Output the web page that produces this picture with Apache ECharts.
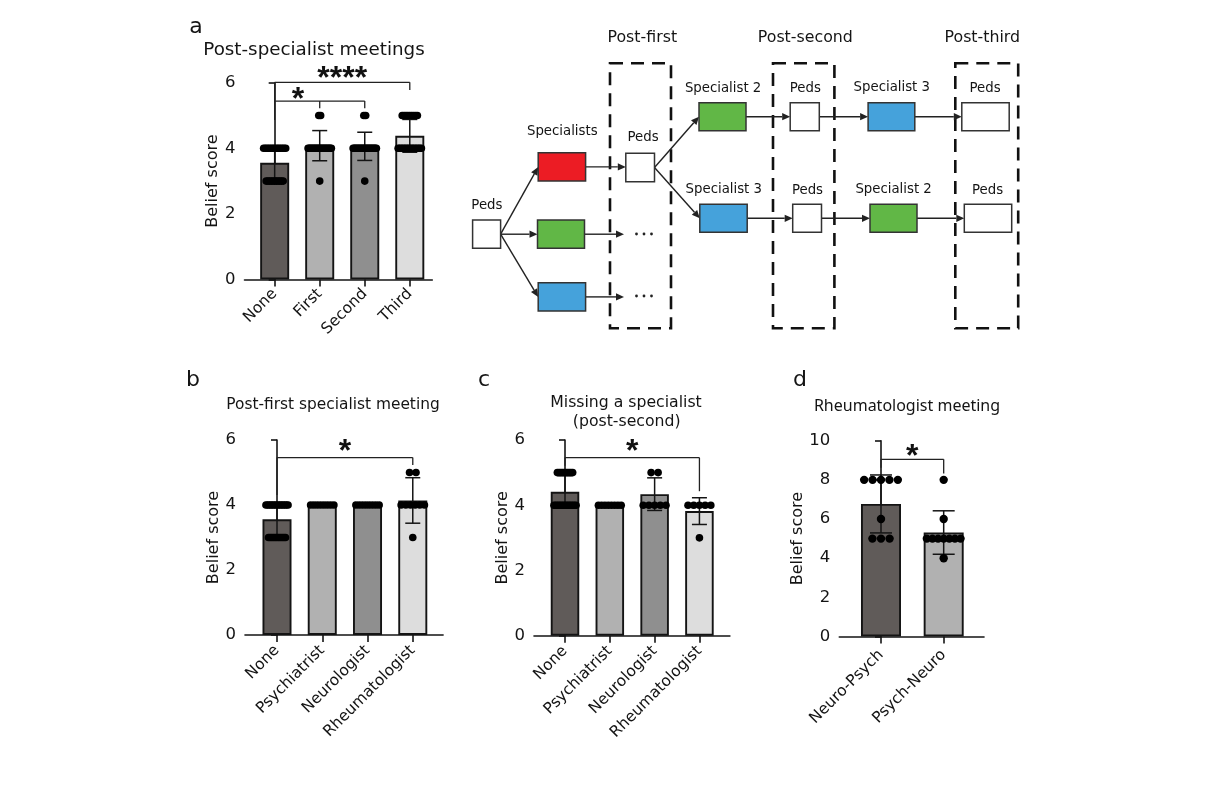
<!DOCTYPE html>
<html><head><meta charset="utf-8">
<script src="https://cdn.jsdelivr.net/npm/echarts@6/dist/echarts.min.js"></script>
<style>html,body{margin:0;padding:0;background:#fff}#c{width:1209px;height:785px}</style>
</head><body><div id="c"></div>
<script>
// ================= DATA =================
// Panel a: Post-specialist meetings
const catsA = ['None', 'First', 'Second', 'Third'];
const meanA = [3.56, 4.08, 4.06, 4.38];
const sdA   = [0.50, 0.46, 0.43, 0.50];
const ptsA_None   = [4,4,4,4,4,4,4,4,4,4,4,4,4,4,3,3,3,3,3,3,3,3,3,3,3];
const ptsA_First  = [5,5,4,4,4,4,4,4,4,4,4,4,4,4,4,4,4,4,4,4,4,4,4,4,3];
const ptsA_Second = [5,5,4,4,4,4,4,4,4,4,4,4,4,4,4,4,4,4,4,4,4,4,4,4,3];
const ptsA_Third  = [5,5,5,5,5,5,5,5,5,4,4,4,4,4,4,4,4,4,4,4,4,4,4,4,4];
const sigA = [
  {from: 0, to: 3, level: 6.01, ends: [4.86, 5.78], ticks: [], text: '****', at: 1.5},
  {from: 0, to: 2, level: 5.44, ends: [null, 5.22], ticks: [[1, 5.22]], text: '*', at: 0.52}
];

// Panel b: Post-first specialist meeting
const catsB = ['None', 'Psychiatrist', 'Neurologist', 'Rheumatologist'];
const meanB = [3.56, 4.00, 4.00, 4.14];
const sdB   = [0.50, 0, 0, 0.70];
const ptsB_None  = [4,4,4,4,4,4,4,4,4,4,4,4,4,4,3,3,3,3,3,3,3,3,3,3,3];
const ptsB_Psych = [4,4,4,4,4,4,4,4];
const ptsB_Neuro = [4,4,4,4,4,4,4,4];
const ptsB_Rheum = [5,5,4,4,4,4,4,4,3];
const sigB = [{from: 0, to: 3, level: 5.46, ends: [4.31, 5.23], ticks: [], text: '*', at: 1.5}];

// Panel c: Missing a specialist (post-second)
const catsC = ['None', 'Psychiatrist', 'Neurologist', 'Rheumatologist'];
const meanC = [4.41, 4.00, 4.34, 3.82];
const sdC   = [0.50, 0, 0.50, 0.41];
const ptsC_None  = [5,5,5,5,5,5,5,5,5,5,4,4,4,4,4,4,4,4,4,4,4,4,4,4];
const ptsC_Psych = [4,4,4,4,4,4,4,4];
const ptsC_Neuro = [5,5,4,4,4,4,4];
const ptsC_Rheum = [4,4,4,4,4,3];
const sigC = [{from: 0, to: 3, level: 5.46, ends: [5.21, 4.43], ticks: [], text: '*', at: 1.5}];

// Panel d: Rheumatologist meeting
const catsD = ['Neuro-Psych', 'Psych-Neuro'];
const meanD = [6.77, 5.31];
const sdD   = [1.48, 1.11];
const ptsD_NP = [8,8,8,8,8,6,5,5,5];
const ptsD_PN = [8,6,5,5,5,5,5,5,5,4];
const sigD = [{from: 0, to: 1, level: 9.05, ends: [8.62, 8.33], ticks: [], text: '*', at: 0.5}];

const yTicksABC = {max: 6, interval: 2};
const yTicksD = {max: 10, interval: 2};

// ================= STYLE / LAYOUT =================
const FONT = '"DejaVu Sans", sans-serif';
const INK = '#141414';
const C_DARK = '#605b59', C_LIGHT = '#b1b1b1', C_MID = '#8f8f8f', C_PALE = '#dddddd';

const panels = [
  {cats: catsA, mean: meanA, sd: sdA, pts: [ptsA_None, ptsA_First, ptsA_Second, ptsA_Third], sig: sigA, y: yTicksABC,
   colors: [C_DARK, C_LIGHT, C_MID, C_PALE], grid: {left: 244.5, top: 82.7, width: 187.8, height: 196.8},
   xmin: -0.67, xmax: 3.5, barW: 29, cap: 15, r: 3.8, gap: [1.7, 1.9, 1.9, 1.9], lifts: [11.5, 9], nameGap: 24, lblMargin: 12},
  {cats: catsB, mean: meanB, sd: sdB, pts: [ptsB_None, ptsB_Psych, ptsB_Neuro, ptsB_Rheum], sig: sigB, y: yTicksABC,
   colors: [C_DARK, C_LIGHT, C_MID, C_PALE], grid: {left: 245, top: 440, width: 198.1, height: 195},
   xmin: -0.707, xmax: 3.67, barW: 29, cap: 15, r: 3.8, gap: [1.7, 6.5, 6.5, 6.5], lifts: [13.5], nameGap: 23, lblMargin: 13},
  {cats: catsC, mean: meanC, sd: sdC, pts: [ptsC_None, ptsC_Psych, ptsC_Neuro, ptsC_Rheum], sig: sigC, y: yTicksABC,
   colors: [C_DARK, C_LIGHT, C_MID, C_PALE], grid: {left: 534, top: 440, width: 195.9, height: 195.7},
   xmin: -0.692, xmax: 3.68, barW: 28.5, cap: 15, r: 3.8, gap: [1.7, 6.5, 7, 6.5], lifts: [13.5], nameGap: 23, lblMargin: 13},
  {cats: catsD, mean: meanD, sd: sdD, pts: [ptsD_NP, ptsD_PN], sig: sigD, y: yTicksD,
   colors: [C_DARK, C_LIGHT], grid: {left: 839.3, top: 440.7, width: 144.7, height: 195.8},
   xmin: -0.665, xmax: 1.643, barW: 40, cap: 22, r: 4.2, gap: [8.6, 8.6], lifts: [9.8], nameGap: 33.5, lblMargin: 16}
];

function dotData(pts) {
  const out = [];
  pts.forEach((list, i) => {
    const groups = {};
    list.forEach(v => { (groups[v] = groups[v] || []).push(v); });
    Object.keys(groups).forEach(k => {
      const n = groups[k].length;
      for (let r = 0; r < n; r++) out.push([i, +k, r, n]);
    });
  });
  return out;
}

const grids = [], xAxes = [], yAxes = [], series = [];
panels.forEach((p, g) => {
  grids.push(Object.assign({containLabel: false, outerBoundsMode: 'none'}, p.grid));
  const idx = p.cats.map((_, i) => i);
  xAxes.push({
    type: 'value', gridIndex: g, min: p.xmin, max: p.xmax,
    axisLine: {show: true, onZero: false, lineStyle: {color: INK, width: 1.6}},
    axisTick: {show: true, length: 7, customValues: idx, lineStyle: {color: INK, width: 1.6}},
    axisLabel: {show: true, rotate: 45, margin: p.lblMargin, fontSize: 15.5, fontFamily: FONT, color: INK,
      customValues: idx, formatter: v => p.cats[Math.round(v)] || ''},
    splitLine: {show: false}
  });
  yAxes.push({
    type: 'value', gridIndex: g, min: 0, max: p.y.max, interval: p.y.interval,
    axisLine: {show: true, lineStyle: {color: INK, width: 1.6}},
    axisTick: {show: true, length: 6, lineStyle: {color: INK, width: 1.6}},
    axisLabel: {fontSize: 16.5, margin: 9, color: INK, fontFamily: FONT},
    splitLine: {show: false},
    name: 'Belief score', nameLocation: 'middle', nameGap: p.nameGap, nameRotate: 90,
    nameTextStyle: {fontSize: 16, fontFamily: FONT, color: INK}
  });
  // bars
  series.push({
    type: 'bar', xAxisIndex: g, yAxisIndex: g, barWidth: p.barW, z: 2, silent: true,
    data: p.mean.map((m, i) => ({value: [i, m], itemStyle: {color: p.colors[i]}})),
    itemStyle: {borderColor: INK, borderWidth: 1.9}
  });
  // error bars (mean ± SD)
  series.push({
    type: 'custom', xAxisIndex: g, yAxisIndex: g, z: 3, silent: true,
    data: p.mean.map((m, i) => [i, m, p.sd[i]]),
    renderItem: (params, api) => {
      const i = api.value(0), m = api.value(1), s = api.value(2);
      if (!s) return null;
      const t = api.coord([i, m + s]), b = api.coord([i, m - s]);
      const h = p.cap / 2, st = {stroke: INK, lineWidth: 1.5};
      return {type: 'group', children: [
        {type: 'line', shape: {x1: t[0], y1: t[1], x2: b[0], y2: b[1]}, style: st},
        {type: 'line', shape: {x1: t[0] - h, y1: t[1], x2: t[0] + h, y2: t[1]}, style: st},
        {type: 'line', shape: {x1: b[0] - h, y1: b[1], x2: b[0] + h, y2: b[1]}, style: st}
      ]};
    }
  });
  // individual points
  series.push({
    type: 'custom', xAxisIndex: g, yAxisIndex: g, z: 4, silent: true,
    data: dotData(p.pts),
    renderItem: (params, api) => {
      const i = api.value(0), v = api.value(1), rk = api.value(2), n = api.value(3);
      const c = api.coord([i, v]);
      const span = p.barW - 1.5 * p.r;
      const s = n > 1 ? Math.min(p.gap[i], span / (n - 1)) : 0;
      const x = c[0] + (rk - (n - 1) / 2) * s;
      return {type: 'circle', shape: {cx: x, cy: c[1], r: p.r}, style: {fill: '#000'}};
    }
  });
  // significance brackets
  series.push({
    type: 'custom', xAxisIndex: g, yAxisIndex: g, z: 5, silent: true,
    data: p.sig.map((s, k) => [s.from, s.level, k]),
    renderItem: (params, api) => {
      const s = p.sig[params.dataIndex];
      const st = {stroke: '#222', lineWidth: 1.3};
      const a = api.coord([s.from, s.level]), b = api.coord([s.to, s.level]);
      const ch = [{type: 'line', shape: {x1: a[0], y1: a[1], x2: b[0], y2: b[1]}, style: st}];
      if (s.ends[0] != null) { const e = api.coord([s.from, s.ends[0]]); ch.push({type: 'line', shape: {x1: a[0], y1: a[1], x2: e[0], y2: e[1]}, style: st}); }
      if (s.ends[1] != null) { const e = api.coord([s.to, s.ends[1]]); ch.push({type: 'line', shape: {x1: b[0], y1: b[1], x2: e[0], y2: e[1]}, style: st}); }
      s.ticks.forEach(tk => {
        const u = api.coord([tk[0], s.level]), e = api.coord([tk[0], tk[1]]);
        ch.push({type: 'line', shape: {x1: u[0], y1: u[1], x2: e[0], y2: e[1]}, style: st});
      });
      const t = api.coord([s.at, s.level]);
      ch.push({type: 'text', x: t[0], y: t[1] - p.lifts[params.dataIndex] + 8,
        style: {text: s.text, fill: '#111', fontSize: 32, fontWeight: 'bold', fontFamily: '"Liberation Sans", Arial, sans-serif',
          align: 'center', textAlign: 'center', verticalAlign: 'middle', textVerticalAlign: 'middle'}});
      return {type: 'group', children: ch};
    }
  });
});

// ================= DIAGRAM + TEXT (graphic) =================
const G = [];
function txt(x, y, text, size, family, weight) {
  G.push({type: 'text', x, y, z: 10, style: {text, fill: INK, fontSize: size, fontFamily: family || FONT, fontWeight: weight || 'normal',
    align: 'center', textAlign: 'center', verticalAlign: 'middle', textVerticalAlign: 'middle'}});
}
function box(x1, y1, x2, y2, fill) {
  G.push({type: 'rect', z: 10, shape: {x: x1, y: y1, width: x2 - x1, height: y2 - y1}, style: {fill, stroke: '#333', lineWidth: 1.5}});
}
function dashed(x1, y1, x2, y2) {
  G.push({type: 'rect', z: 9, shape: {x: x1, y: y1, width: x2 - x1, height: y2 - y1},
    style: {fill: 'none', stroke: '#111', lineWidth: 2.6, lineDash: [13, 8]}});
}
function arrow(x1, y1, x2, y2) {
  const dx = x2 - x1, dy = y2 - y1, L = Math.hypot(dx, dy), ux = dx / L, uy = dy / L, hl = 8, hw = 3.6;
  const bx = x2 - ux * hl, by = y2 - uy * hl;
  G.push({type: 'line', z: 10, shape: {x1, y1, x2: bx, y2: by}, style: {stroke: '#222', lineWidth: 1.4}});
  G.push({type: 'polygon', z: 10, shape: {points: [[x2, y2], [bx - uy * hw, by + ux * hw], [bx + uy * hw, by - ux * hw]]}, style: {fill: '#222'}});
}
function dots3(x, y) {
  [0, 7.5, 15].forEach(d => G.push({type: 'circle', z: 10, shape: {cx: x + d, cy: y, r: 1.4}, style: {fill: '#222'}}));
}
const RED = '#ec1c24', GREEN = '#61b746', BLUE = '#45a2db', WHITE = '#ffffff';

dashed(610, 63.3, 671, 328.3);
dashed(773, 63.3, 834.4, 328.3);
dashed(955.3, 63.3, 1018.2, 328.3);

arrow(500.6, 234.2, 538.2, 166.9);
arrow(500.6, 234.2, 537.5, 234.2);
arrow(500.6, 234.2, 538.2, 296.9);
arrow(585.6, 166.9, 625.8, 166.9);
arrow(584.5, 234.2, 624, 234.2);
arrow(585.6, 296.9, 624, 296.9);
arrow(654.5, 167.5, 699, 116.7);
arrow(654.5, 167.5, 699.8, 218.3);
arrow(746, 116.7, 790.2, 116.7);
arrow(747.2, 218.3, 792.7, 218.3);
arrow(819.3, 116.7, 868.1, 116.7);
arrow(821.5, 218.3, 870, 218.3);
arrow(914.8, 116.7, 961.8, 116.7);
arrow(917, 218.3, 964.3, 218.3);
dots3(636.5, 234);
dots3(636.5, 296);

box(472.6, 220, 500.6, 248.3, WHITE);
box(538.2, 152.7, 585.6, 181, RED);
box(537.5, 220, 584.5, 248.3, GREEN);
box(538.2, 282.7, 585.6, 311, BLUE);
box(625.8, 153.3, 654.5, 181.7, WHITE);
box(699, 102.7, 746, 130.7, GREEN);
box(699.8, 204.3, 747.2, 232.3, BLUE);
box(790.2, 102.7, 819.3, 130.7, WHITE);
box(792.7, 204.3, 821.5, 232.3, WHITE);
box(868.1, 102.7, 914.8, 130.7, BLUE);
box(870, 204.3, 917, 232.3, GREEN);
box(961.8, 102.7, 1009.2, 130.7, WHITE);
box(964.3, 204.3, 1011.7, 232.3, WHITE);

const LBL = 13.3;
txt(486.9, 206, 'Peds', LBL);
txt(562.3, 131.6, 'Specialists', LBL);
txt(643.1, 137.6, 'Peds', LBL);
txt(723.1, 88.6, 'Specialist 2', LBL);
txt(723.8, 189.2, 'Specialist 3', LBL);
txt(805.3, 88.6, 'Peds', LBL);
txt(807.5, 190.9, 'Peds', LBL);
txt(891.8, 87.6, 'Specialist 3', LBL);
txt(893.6, 189.2, 'Specialist 2', LBL);
txt(985.1, 88.6, 'Peds', LBL);
txt(987.6, 190.2, 'Peds', LBL);
txt(642.3, 38, 'Post-first', 15.8);
txt(805.3, 38, 'Post-second', 15.8);
txt(982.3, 38, 'Post-third', 15.8);

// panel letters and titles
txt(196, 27.7, 'a', 22);
txt(193, 380.4, 'b', 22);
txt(484, 380.4, 'c', 22);
txt(800, 380.4, 'd', 22);
txt(314, 50.2, 'Post-specialist meetings', 18.3);
txt(333, 404.7, 'Post-first specialist meeting', 15.4);
txt(626, 402.6, 'Missing a specialist', 15.7);
txt(626.7, 422, '(post-second)', 15.7);
txt(907, 406.1, 'Rheumatologist meeting', 16, '"Noto Sans", sans-serif');

const chart = echarts.init(document.getElementById('c'));
chart.setOption({
  backgroundColor: '#ffffff',
  animation: false,
  grid: grids, xAxis: xAxes, yAxis: yAxes, series,
  graphic: {elements: G}
});
</script></body></html>
